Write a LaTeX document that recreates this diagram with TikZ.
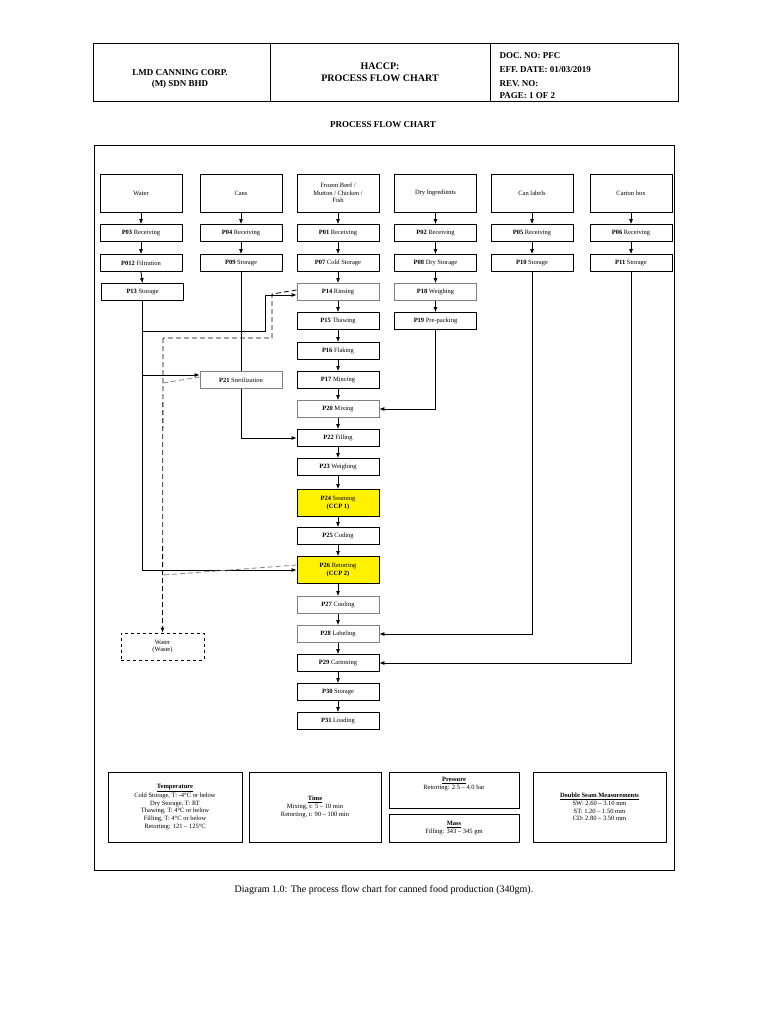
\documentclass[tikz,border=0pt]{standalone}
\usepackage{fontspec}
\setmainfont{Liberation Serif}
\usetikzlibrary{arrows.meta}
\begin{document}
\begin{tikzpicture}[x=1pt,y=-1pt,
  bx/.style={draw,line width=0.8pt,minimum width=82pt,minimum height=17pt,inner sep=1pt,font=\fontsize{6.5}{7.5}\selectfont,align=center},
  gbx/.style={bx,draw=gray},
  topbx/.style={bx,minimum height=38pt},
  ybx/.style={bx,fill=yellow,minimum height=27pt},
  ar/.style={-{Latex[length=5pt,width=4pt]},line width=0.8pt},
  ln/.style={line width=0.8pt},
  dsh/.style={line width=0.8pt,dash pattern=on 5pt off 3pt},
  info/.style={draw,line width=0.9pt,inner sep=1pt,font=\fontsize{6.5}{7.8}\selectfont,align=center},
  hd/.style={font=\fontsize{9}{11}\selectfont\bfseries}]
\useasboundingbox (0,0) rectangle (768,1024);
% header
\draw[line width=0.8pt] (93,43) rectangle (678,101);
\draw[line width=0.8pt] (270,43) -- (270,101) (490,43) -- (490,101);
\node[hd,align=center] (co) at (180,79) {LMD CANNING CORP.\\(M) SDN BHD};
\node[hd,align=center,font=\fontsize{10}{12}\selectfont\bfseries] (hc) at (380,72) {HACCP:\\PROCESS FLOW CHART};
\node[hd,anchor=west] (d1) at (496,56) {DOC. NO: PFC};
\node[hd,anchor=west] (d2) at (496,70) {EFF. DATE: 01/03/2019};
\node[hd,anchor=west] (d3) at (496,84) {REV. NO:};
\node[hd,anchor=west] (d4) at (496,96) {PAGE: 1 OF 2};
\node[hd] (title) at (383,125) {PROCESS FLOW CHART};
\draw[line width=0.8pt] (94,145) rectangle (674,870);
\node[font=\fontsize{10}{12}\selectfont] (cap) at (384,890) {Diagram 1.0: The process flow chart for canned food production (340gm).};
% top row
\node[topbx] (water) at (141,193) {Water};
\node[topbx] (cans) at (241,193) {Cans};
\node[topbx] (beef) at (338,193) {Frozen Beef /\\Mutton / Chicken /\\Fish};
\node[topbx] (dry) at (435.5,193) {Dry Ingredients};
\node[topbx] (lab) at (532,193) {Can labels};
\node[topbx] (carton) at (631,193) {Carton box};
% rows
\node[bx] (p03) at (141,233) {\textbf{P03} Receiving};
\node[bx] (p04) at (241,233) {\textbf{P04} Receiving};
\node[bx] (p01) at (338,233) {\textbf{P01} Receiving};
\node[bx] (p02) at (435.5,233) {\textbf{P02} Receiving};
\node[bx] (p05) at (532,233) {\textbf{P05} Receiving};
\node[bx] (p06) at (631,233) {\textbf{P06} Receiving};
\node[bx] (p012) at (141,263) {\textbf{P012} Filtration};
\node[bx] (p09) at (241,263) {\textbf{P09} Storage};
\node[bx] (p07) at (338,263) {\textbf{P07} Cold Storage};
\node[bx] (p08) at (435.5,263) {\textbf{P08} Dry Storage};
\node[bx] (p10) at (532,263) {\textbf{P10} Storage};
\node[bx] (p11) at (631,263) {\textbf{P11} Storage};
\node[bx] (p13) at (142.5,292) {\textbf{P13} Storage};
\node[gbx] (p14) at (338,292) {\textbf{P14} Rinsing};
\node[gbx] (p18) at (435.5,292) {\textbf{P18} Weighing};
\node[bx] (p15) at (338,321) {\textbf{P15} Thawing};
\node[bx] (p19) at (435.5,321) {\textbf{P19} Pre-packing};
\node[bx] (p16) at (338,351) {\textbf{P16} Flaking};
\node[gbx] (p21) at (241,380) {\textbf{P21} Sterilization};
\node[bx] (p17) at (338,380) {\textbf{P17} Mincing};
\node[gbx] (p20) at (338,409) {\textbf{P20} Mixing};
\node[bx] (p22) at (338,438) {\textbf{P22} Filling};
\node[bx] (p23) at (338,467) {\textbf{P23} Weighing};
\node[ybx] (p24) at (338,503) {\textbf{P24} Seaming\\\textbf{(CCP 1)}};
\node[bx] (p25) at (338,536) {\textbf{P25} Coding};
\node[ybx] (p26) at (338,570) {\textbf{P26} Retorting\\\textbf{(CCP 2)}};
\node[gbx] (p27) at (338,605) {\textbf{P27} Cooling};
\node[gbx] (p28) at (338,634) {\textbf{P28} Labeling};
\node[bx] (p29) at (338,663) {\textbf{P29} Cartoning};
\node[bx] (p30) at (338,692) {\textbf{P30} Storage};
\node[bx] (p31) at (338,721) {\textbf{P31} Loading};
\node[bx,dashed,minimum width=83pt,minimum height=27pt] (waste) at (162.5,646.5) {Water\\(Waste)};
% vertical arrows
\foreach \a/\b in {water/p03,p03/p012,p012/p13,cans/p04,p04/p09,beef/p01,p01/p07,p07/p14,p14/p15,p15/p16,p16/p17,p17/p20,p20/p22,p22/p23,p23/p24,p24/p25,p25/p26,p26/p27,p27/p28,p28/p29,p29/p30,p30/p31,dry/p02,p02/p08,p08/p18,p18/p19,lab/p05,p05/p10,carton/p06,p06/p11}
  \draw[ar] (\a.south) -- (\b.north);
% connectors
\draw[ln] (p09.south) -- (p21.north);
\draw[ar] (p21.south) |- (p22.west);
\draw[ar] (p13.south) |- (p26.west);
\coordinate (j1) at (143,331);
\coordinate (j2) at (265,331);
\draw[ar] (j1) -- (j2) |- ([yshift=-3pt]p14.west);
\coordinate (j3) at (143,375);
\draw[ar] (j3) -- (p21.west |- j3);
\draw[ar] (p19.south) |- (p20.east);
\draw[ar] (p10.south) |- (p28.east);
\draw[ar] (p11.south) |- (p29.east);
% dashed
\coordinate (k1) at (272,294);
\coordinate (k2) at (272,338);
\coordinate (k3) at (163,338);
\draw[dsh] ([yshift=2pt]p14.west) -- (k1) -- (k2) -- (k3);
\draw[dsh,-{Latex[length=5pt,width=4pt]}] (k3) -- (waste.north);
\draw[dsh,gray] ([yshift=3pt]p21.west) -- (163,383);
\draw[dsh,gray] ([yshift=5pt]p26.west) -- (163,575);
% info boxes
\node[info,minimum width=134pt,minimum height=70pt] (temp) at (175,807) {\textbf{\underline{Temperature}}\\Cold Storage, T:\ -4°C or below\\Dry Storage, T: RT\\Thawing,\ T: 4°C or below\\Filling, T: 4°C or below\\Retorting: 121 – 125°C};
\node[info,minimum width=132pt,minimum height=70pt] (time) at (315,807) {\textbf{\underline{Time}}\\Mixing, t: 5 – 10 min\\Retorting, t: 90 – 100 min};
\node[info,minimum width=130pt,minimum height=36pt] (pres) at (454,790) {\textbf{\underline{Pressure}}\\Retorting: 2.5 – 4.0 bar\\[6pt]};
\node[info,minimum width=130pt,minimum height=28pt] (mass) at (454,828) {\textbf{\underline{Mass}}\\Filling: 343 – 345 gm};
\node[info,minimum width=133pt,minimum height=70pt] (seam) at (599.5,807) {\textbf{\underline{Double Seam Measurements}}\\SW: 2.60 – 3.10 mm\\ST:\ 1.20 – 1.50 mm\\CD: 2.80 – 3.50 mm};
\end{tikzpicture}
\end{document}
